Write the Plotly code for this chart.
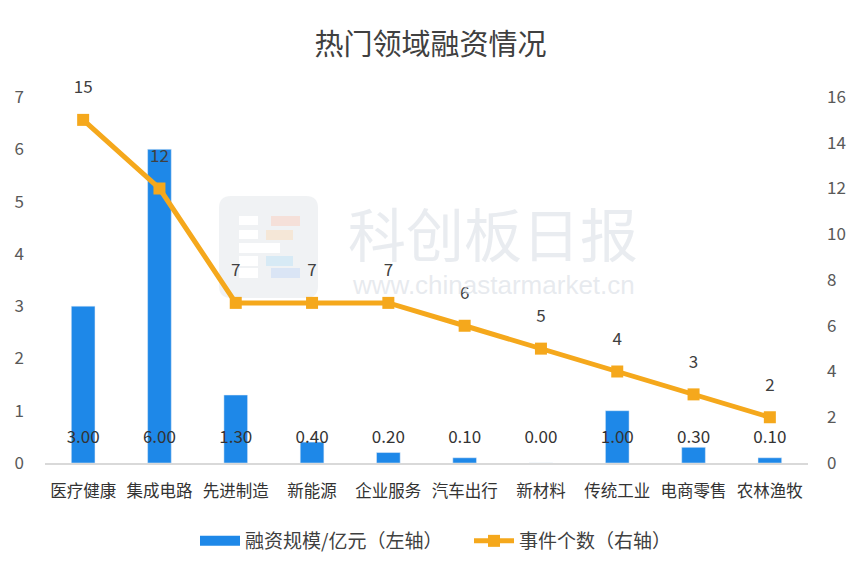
import plotly.graph_objects as go

categories = ["医疗健康", "集成电路", "先进制造", "新能源", "企业服务", "汽车出行", "新材料", "传统工业", "电商零售", "农林渔牧"]
funding = [3.00, 6.00, 1.30, 0.40, 0.20, 0.10, 0.00, 1.00, 0.30, 0.10]
events = [15, 12, 7, 7, 7, 6, 5, 4, 3, 2]
left_ticks = [0, 1, 2, 3, 4, 5, 6, 7]
right_ticks = [0, 2, 4, 6, 8, 10, 12, 14, 16]

FONT = "Noto Sans CJK SC"
BAR = "#1E88E8"
LINE = "#F5A81C"

# plot area in screen pixels (page has an 8px body margin)
PL, PR, PT, PB = 45, 808, 97, 463


def px(sx):
    return (sx - PL) / (PR - PL)


def py(sy):
    return (PB - sy) / (PB - PT)


fig = go.Figure()
fig.add_trace(go.Bar(
    x=categories, y=funding, name="融资规模/亿元（左轴）",
    marker=dict(color=BAR), width=0.31, yaxis="y", showlegend=False,
))
# legend entry for bars (wide swatch)
fig.add_trace(go.Scatter(
    x=[None], y=[None], mode="lines", name="融资规模/亿元（左轴）",
    line=dict(color=BAR, width=14), yaxis="y", hoverinfo="skip", legend="legend",
))
# bar value labels near base
fig.add_trace(go.Scatter(
    x=categories, y=[0.47] * len(categories), mode="text",
    text=[f"{v:.2f}" for v in funding], textposition="middle center",
    textfont=dict(family=FONT, size=17, color="#333333"),
    showlegend=False, hoverinfo="skip", yaxis="y", cliponaxis=False,
))
fig.add_trace(go.Scatter(
    x=categories, y=events, name="事件个数（右轴）", mode="lines+markers",
    line=dict(color=LINE, width=5),
    marker=dict(symbol="square", size=12, color=LINE),
    yaxis="y2", legend="legend2", cliponaxis=False,
))
# line value labels, offset above the points
fig.add_trace(go.Scatter(
    x=categories, y=events, mode="markers+text",
    marker=dict(size=34, opacity=0),
    text=[str(v) for v in events], textposition="top center",
    textfont=dict(family=FONT, size=17, color="#404040"),
    showlegend=False, hoverinfo="skip", yaxis="y2", cliponaxis=False,
))

# watermark logo
x0, x1, y0, y1 = px(219), px(318), py(298), py(196)
rx, ry = px(231) - px(219), py(196) - py(208)
path = (f"M {x0+rx},{y1} L {x1-rx},{y1} Q {x1},{y1} {x1},{y1-ry} "
        f"L {x1},{y0+ry} Q {x1},{y0} {x1-rx},{y0} L {x0+rx},{y0} "
        f"Q {x0},{y0} {x0},{y0+ry} L {x0},{y1-ry} Q {x0},{y1} {x0+rx},{y1} Z")
fig.add_shape(type="path", path=path, xref="paper", yref="paper",
              fillcolor="rgba(226,229,234,0.5)", line=dict(width=0), layer="below")
blocks = [
    (239, 258, 216, 225, "rgba(255,255,255,0.95)"),
    (239, 258, 230, 239, "rgba(255,255,255,0.95)"),
    (239, 280, 243, 253, "rgba(255,255,255,0.95)"),
    (239, 258, 256, 266, "rgba(255,255,255,0.95)"),
    (239, 258, 268, 278, "rgba(255,255,255,0.95)"),
    (271, 300, 216, 226, "rgba(250,205,190,0.5)"),
    (266, 293, 230, 240, "rgba(250,220,185,0.5)"),
    (266, 293, 256, 266, "rgba(190,225,245,0.5)"),
    (271, 300, 268, 278, "rgba(195,215,245,0.5)"),
]
for bx0, bx1, by0, by1, col in blocks:
    fig.add_shape(type="rect", xref="paper", yref="paper",
                  x0=px(bx0), x1=px(bx1), y0=py(by1), y1=py(by0),
                  fillcolor=col, line=dict(width=0), layer="below")
fig.add_annotation(text="科创板日报", xref="paper", yref="paper",
                   x=px(493), y=py(232), showarrow=False,
                   font=dict(family=FONT, size=58, color="rgba(215,220,228,0.55)"))
fig.add_annotation(text="www.chinastarmarket.cn", xref="paper", yref="paper",
                   x=px(493), y=py(285), showarrow=False,
                   font=dict(family="Liberation Sans", size=26, color="rgba(215,220,228,0.6)"))

legend_common = dict(orientation="h", yanchor="middle", xanchor="left",
                     font=dict(family=FONT, size=19, color="#404040"),
                     itemwidth=40, bgcolor="rgba(0,0,0,0)")

fig.update_layout(
    width=863, height=573,
    margin=dict(l=PL - 8, r=863 - PR + 8, t=PT - 8, b=573 - PB + 8, autoexpand=False),
    paper_bgcolor="white", plot_bgcolor="white",
    title=dict(text="热门领域融资情况", x=(430.5 - 8) / 863, xanchor="center", y=1 - 37 / 573,
               yanchor="middle", font=dict(family=FONT, size=29, color="#404040")),
    font=dict(family=FONT, color="#404040"),
    xaxis=dict(showgrid=False, showline=True, linecolor="#D9D9D9", linewidth=1.5,
               ticks="", ticklabelstandoff=12, automargin=False,
               tickfont=dict(family=FONT, size=16.5, color="#333333"),
               range=[-0.5, 9.5]),
    yaxis=dict(range=[0, 7], tickvals=left_ticks, showgrid=False, zeroline=False,
               showline=False, ticks="", ticklabelstandoff=20, automargin=False,
               tickfont=dict(family=FONT, size=17, color="#595959")),
    yaxis2=dict(range=[0, 16], tickvals=right_ticks, overlaying="y", side="right",
                showgrid=False, zeroline=False, showline=False, ticks="",
                ticklabelstandoff=18, automargin=False,
                tickfont=dict(family=FONT, size=17, color="#595959")),
    legend=dict(legend_common, x=px(195), y=py(541)),
    legend2=dict(legend_common, x=px(469), y=py(541)),
    showlegend=True,
)
fig.write_html("out.html")
